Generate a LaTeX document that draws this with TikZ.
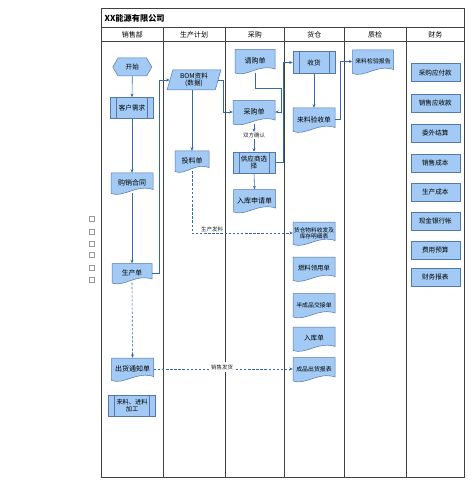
\documentclass[tikz,border=0pt]{standalone}
\usepackage{fontspec}
\setmainfont{Noto Sans CJK SC}
\usetikzlibrary{arrows.meta,shapes.geometric,shapes.symbols}
\definecolor{boxfill}{RGB}{162,202,244}
\definecolor{boxline}{RGB}{84,120,168}
\definecolor{flowcol}{RGB}{52,104,176}
\definecolor{framecol}{RGB}{64,64,64}
\tikzset{
  frameline/.style={draw=framecol, line width=1pt},
  docshape/.style={draw=boxline, fill=boxfill, line width=0.5pt},
  doctext/.style={draw=none, inner sep=0pt, align=center},
  procbox/.style={draw=boxline, fill=boxfill, line width=0.5pt, inner sep=0pt, align=center,
    font=\fontsize{6.6}{7.4}\selectfont,
    path picture={
      \draw[boxline, line width=0.5pt] ([xshift=6pt]path picture bounding box.north west) -- ([xshift=6pt]path picture bounding box.south west);
      \draw[boxline, line width=0.5pt] ([xshift=-6pt]path picture bounding box.north east) -- ([xshift=-6pt]path picture bounding box.south east);}},
  finbox/.style={draw=boxline, fill=boxfill, line width=0.5pt, minimum width=49pt, minimum height=18pt, inner sep=0pt, font=\fontsize{6.6}{7.4}\selectfont},
  headtext/.style={font=\fontsize{7}{8}\selectfont, inner sep=0pt},
  flow/.style={draw=flowcol, line width=0.6pt, -{Stealth[length=3.5pt,width=3pt]}},
  dflow/.style={flow, dash pattern=on 2.5pt off 1.6pt},
  flowlabel/.style={font=\fontsize{5.5}{6.5}\selectfont, inner sep=0.8pt, text=black!85}
}
% document-shaped node: name, x, y, w, h, font size, text
\newcommand{\mkdoc}[7]{%
  \path[docshape] ({#2-#4/2},{#3-#5/2}) -- ({#2+#4/2},{#3-#5/2}) -- ({#2+#4/2},{#3+#5/2-3.5})
    .. controls ({#2+#4*0.1},{#3+#5/2-9}) and ({#2-#4*0.2},{#3+#5/2+5}) .. ({#2-#4/2},{#3+#5/2+0.5}) -- cycle;
  \node[doctext, font=\fontsize{#6}{#6}\selectfont, minimum width=#4pt, minimum height=#5pt] (#1) at (#2,#3) {#7};}

\begin{document}
\begin{tikzpicture}[x=1pt,y=-1pt]
\useasboundingbox[fill=white] (0,0) rectangle (474,486);

% frame and lanes
\draw[frameline] (101.5,9) rectangle (464.5,477);
\draw[frameline] (101.5,27.5) -- (464.5,27.5);
\draw[frameline] (101.5,41.7) -- (464.5,41.7);
\foreach \xx in {163,225,284.5,344,406} \draw[frameline] (\xx,27.5) -- (\xx,477);

\node[anchor=west, font=\bfseries\fontsize{8.2}{9}\selectfont, inner sep=0pt] (title) at (104.5,18.3) {XX能源有限公司};
\node[headtext] (h1) at (132.25,34.6) {销售部};
\node[headtext] (h2) at (194,34.6) {生产计划};
\node[headtext] (h3) at (254.75,34.6) {采购};
\node[headtext] (h4) at (314.25,34.6) {货仓};
\node[headtext] (h5) at (375,34.6) {质检};
\node[headtext] (h6) at (435.25,34.6) {财务};

% small squares at left
\foreach \yy in {219,231.5,243.5,255,267.5,280}
  \draw[gray!80, line width=0.5pt] (89.3,{\yy-2.4}) rectangle ++(4.8,4.8);

% sales column
\node[signal, signal to=east and west, signal pointer angle=120, draw=boxline, fill=boxfill, line width=0.5pt,
      minimum width=39pt, minimum height=18pt, inner sep=0pt, font=\fontsize{6.6}{7.4}\selectfont] (kaishi) at (132.3,67) {开始};
\node[procbox, minimum width=43pt, minimum height=21pt] (kehu) at (132,108) {客户需求};
\mkdoc{gouxiao}{132}{183}{42}{20}{7}{购销合同}
\mkdoc{shengchan}{132}{273}{40}{19}{6.8}{生产单}
\mkdoc{chuhuo}{132.5}{369}{42}{22}{7}{出货通知单}
\node[procbox, minimum width=47pt, minimum height=21pt, font=\fontsize{6.2}{7.2}\selectfont] (laoliao) at (132,405.5) {来料、进料\\加工};

% production planning
\node[trapezium, trapezium left angle=75, trapezium right angle=105, trapezium stretches=true,
      draw=boxline, fill=boxfill, line width=0.5pt, minimum width=54pt, minimum height=20pt,
      inner sep=0pt, align=center, font=\fontsize{6.6}{7.4}\selectfont] (bom) at (194,80) {BOM资料\\(数据)};
\mkdoc{touliao}{192}{161}{34}{20}{7}{投料单}

% purchasing
\mkdoc{qinggou}{255}{61}{40}{23}{7}{请购单}
\mkdoc{caigou}{254}{112}{42}{23}{7}{采购单}
\node[procbox, minimum width=42pt, minimum height=21pt] (gongying) at (254,162.5) {供应商选\\择};
\mkdoc{rukushen}{254.5}{200.5}{42}{22}{7}{入库申请单}

% warehouse
\node[procbox, minimum width=42pt, minimum height=22pt] (shouhuo) at (314,62.5) {收货};
\mkdoc{yanshou}{314}{119.5}{42}{23}{6.8}{来料验收单}
\mkdoc{kucun}{314}{233}{42}{22}{5.7}{货仓物料收发及\\库存明细表}
\mkdoc{ranliao}{314}{268.5}{42}{23}{6.4}{燃料领用单}
\mkdoc{banchengpin}{314}{305}{42}{23}{5.9}{半成品交接单}
\mkdoc{ruku}{314}{338.5}{42}{23}{6.6}{入库单}
\mkdoc{chengpin}{314}{369}{42}{23}{5.9}{成品出货报表}

% quality
\mkdoc{jianyan}{373}{61.5}{41}{23}{5.9}{来料检验报告}

% finance
\node[finbox] (f1) at (435.3,72.7) {采购应付款};
\node[finbox] (f2) at (435.3,103) {销售应收款};
\node[finbox] (f3) at (435.3,133) {委外结算};
\node[finbox] (f4) at (435.3,163.3) {销售成本};
\node[finbox] (f5) at (435.3,192.5) {生产成本};
\node[finbox] (f6) at (435.3,221) {现金银行帐};
\node[finbox] (f7) at (435.3,250) {费用预算};
\node[finbox] (f8) at (435.3,277) {财务报表};

% connectors
\draw[flow] (kaishi.south) -- (kehu.north);
\draw[flow] (kehu.south) -- (gouxiao.north);
\draw[flow] (gouxiao.south) -- (shengchan.north);
\draw[dflow] (shengchan.south) -- (chuhuo.north);
\draw[flow] (shengchan.east) -- ++(7.5,0) |- (bom.west);
\draw[flow] (bom.south -| touliao.north) -- (touliao.north);
\draw[flow] (bom.east) -- ++(5,0) |- (caigou.west);
\coordinate (k1) at (281.5,88);
\draw[flow] (qinggou.south) |- (k1) |- (caigou.east);
\node[flowlabel, fill=white] (lab0) at (254,135.5) {双方确认};
\draw[flow] (caigou.south) -- (lab0.north);
\draw[flow] (lab0.south) -- (gongying.north);
\draw[flow] (gongying.south) -- (rukushen.north);
\draw[flow] (gongying.east) -- ++(8.5,0) |- (shouhuo.west);
\draw[flow] (shouhuo.south) -- (yanshou.north);
\draw[flow] (yanshou.east) -- ++(5.5,0) |- (jianyan.west);
\draw[dflow] (touliao.south) |- (kucun.west);
\node[flowlabel] (lab1) at (212,229.3) {生产发料};
\draw[dflow] (chuhuo.east) -- (chengpin.west);
\node[flowlabel, fill=white, inner sep=2pt] (lab2) at (222,367) {销售发货};
\end{tikzpicture}
\end{document}
